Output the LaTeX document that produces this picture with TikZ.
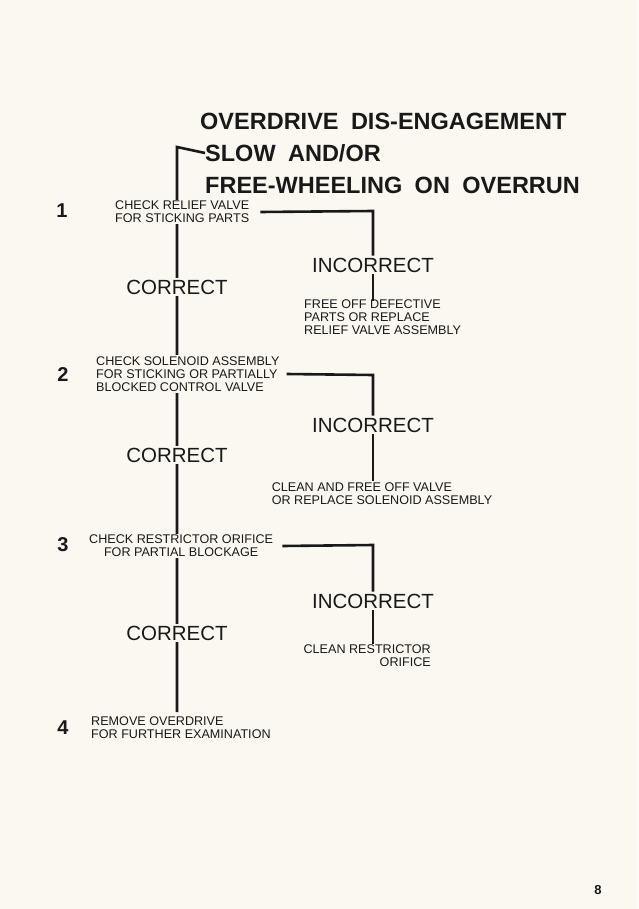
\documentclass[tikz,border=0pt]{standalone}
\usepackage{fontspec}
\setmainfont{Liberation Sans}
\newfontfamily\ttlfont[WordSpace=1.9]{Liberation Sans}
\definecolor{bg}{RGB}{250,248,240}
\definecolor{ink}{RGB}{25,25,25}
\begin{document}
\begin{tikzpicture}[x=1pt,y=-1pt,
  ln/.style={draw=ink,line width=2.6pt},
  small/.style={text=ink,font=\fontsize{12.6}{13.2}\selectfont,align=left,inner sep=1pt},
  verdict/.style={text=ink,font=\fontsize{20.5}{22}\selectfont,fill=bg,inner sep=2pt},
  num/.style={text=ink,font=\bfseries\fontsize{20}{20}\selectfont},
  ttl/.style={text=ink,font=\ttlfont\bfseries\fontsize{23.5}{26}\selectfont,anchor=west,inner sep=0pt}]
\fill[bg] (0,0) rectangle (638,909);
\node[ttl] (t1) at (200,121) {OVERDRIVE DIS-ENGAGEMENT};
\node[ttl] (t2) at (205,153) {SLOW AND/OR};
\node[ttl] (t3) at (205,185) {FREE-WHEELING ON OVERRUN};
\coordinate (top) at (177,147);
\coordinate (bot) at (177,712);
\draw[ln] (t2.west) -- (top) -- (bot);
% step 1
\node[num] (n1) at (62,211) {1};
\node[small,fill=bg,anchor=west] (s1) at (114,212) {CHECK RELIEF VALVE\\FOR STICKING PARTS};
\coordinate (c1) at (373,211);
\node[verdict] (i1) at (373,265) {INCORRECT};
\draw[ln] ([xshift=10pt]s1.east) -- (c1) -- (i1.north);
\node[verdict] (k1) at (177,287) {CORRECT};
\node[small,anchor=north west] (f1) at (303,298) {FREE OFF DEFECTIVE\\PARTS OR REPLACE\\RELIEF VALVE ASSEMBLY};
\draw[ln] (i1.south) -- (373,301);
% step 2
\node[num] (n2) at (63,375) {2};
\node[small,fill=bg,anchor=west] (s2) at (95,374) {CHECK SOLENOID ASSEMBLY\\FOR STICKING OR PARTIALLY\\BLOCKED CONTROL VALVE};
\coordinate (c2) at (373,375);
\node[verdict] (i2) at (373,425) {INCORRECT};
\draw[ln] ([xshift=6pt]s2.east) -- (c2) -- (i2.north);
\node[verdict] (k2) at (177,455) {CORRECT};
\node[small,anchor=north] (f2) at (382,481) {CLEAN AND FREE OFF VALVE\\OR REPLACE SOLENOID ASSEMBLY};
\draw[ln] (i2.south) -- (f2.north -| i2.south);
% step 3
\node[num] (n3) at (63,545) {3};
\node[small,fill=bg,anchor=west,align=center] (s3) at (88,546) {CHECK RESTRICTOR ORIFICE\\FOR PARTIAL BLOCKAGE};
\coordinate (c3) at (373,545);
\node[verdict] (i3) at (373,601) {INCORRECT};
\draw[ln] ([xshift=8pt]s3.east) -- (c3) -- (i3.north);
\node[verdict] (k3) at (177,633) {CORRECT};
\node[small,anchor=north east,align=right] (f3) at (432,643) {CLEAN RESTRICTOR\\ORIFICE};
\draw[ln] (i3.south) -- (373,644);
% step 4
\node[num] (n4) at (63,728) {4};
\node[small,fill=bg,anchor=west] (s4) at (90,728) {REMOVE OVERDRIVE\\FOR FURTHER EXAMINATION};
\node[text=ink,font=\bfseries\fontsize{13}{14}\selectfont] (pg) at (598,890) {8};
\end{tikzpicture}
\end{document}
